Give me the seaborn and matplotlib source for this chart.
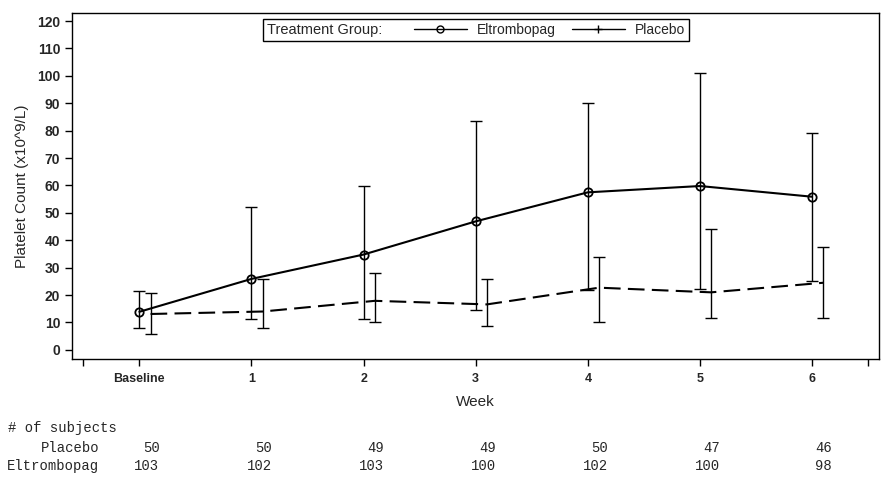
"""
Platelet count over time by treatment group, with subject counts below
"""

import numpy as np
import pandas as pd
import matplotlib
matplotlib.use("Agg")
import matplotlib.pyplot as plt
import matplotlib.transforms as mtransforms
from matplotlib.lines import Line2D
from matplotlib.offsetbox import HPacker
import seaborn as sns

# data
weeks = ['Baseline', '1', '2', '3', '4', '5', '6']
elt_mean = [13.9, 25.9, 34.8, 46.9, 57.5, 59.8, 55.9]
elt_low = [7.9, 11.2, 11.2, 14.6, 21.9, 22.1, 25.2]
elt_high = [21.6, 52.0, 59.7, 83.4, 90.0, 100.9, 79.0]
pbo_mean = [13.1, 14.0, 17.9, 16.6, 22.7, 21.0, 24.5]
pbo_low = [5.7, 7.9, 10.0, 8.8, 10.1, 11.5, 11.7]
pbo_high = [20.9, 25.8, 27.9, 25.8, 33.8, 44.0, 37.7]
n_placebo = [50, 50, 49, 49, 50, 47, 46]
n_elt = [103, 102, 103, 100, 102, 100, 98]

sns.set_style('ticks')
plt.rcParams['font.family'] = ['Liberation Sans', 'DejaVu Sans']

pos = np.arange(len(weeks))
offset = 0.1

elt = pd.DataFrame({'x': pos, 'y': elt_mean})
pbo = pd.DataFrame({'x': pos + offset, 'y': pbo_mean})

fig = plt.figure(figsize=(8.9, 4.87), dpi=100)
ax = fig.add_axes([0.081, 0.263, 0.907, 0.710])

# lines
sns.lineplot(data=elt, x='x', y='y', ax=ax, color='black', linewidth=1.5,
             marker='o', markersize=6, markerfacecolor='none',
             markeredgecolor='black', markeredgewidth=1.3, errorbar=None)
sns.lineplot(data=pbo, x='x', y='y', ax=ax, color='black', linewidth=1.5,
             linestyle=(0, (8, 3.5)), errorbar=None)

# error bars
ax.errorbar(pos, elt_mean,
            yerr=[np.array(elt_mean) - np.array(elt_low), np.array(elt_high) - np.array(elt_mean)],
            fmt='none', ecolor='black', elinewidth=1, capsize=4.3, capthick=1)
ax.errorbar(pos + offset, pbo_mean,
            yerr=[np.array(pbo_mean) - np.array(pbo_low), np.array(pbo_high) - np.array(pbo_mean)],
            fmt='none', ecolor='black', elinewidth=1, capsize=4.3, capthick=1)

ax.set_xlim(-0.6, 6.6)
ax.set_ylim(-3.3, 122.9)
ax.set_xticks(pos)
ax.set_xticklabels(weeks, fontsize=9, fontweight='bold')
ax.set_xticks([-0.5, 6.5], minor=True)
ax.set_yticks(np.arange(0, 121, 10))
ax.set_yticklabels([str(v) for v in range(0, 121, 10)], fontsize=10, fontweight='bold')
ax.tick_params(axis='both', which='both', direction='out', length=5, width=1, color='black')
ax.tick_params(axis='x', which='major', pad=5)
for sp in ax.spines.values():
    sp.set_visible(True)
    sp.set_color('black')
    sp.set_linewidth(1)

ax.set_xlabel('Week', fontsize=11, labelpad=7)
ax.set_ylabel('Platelet Count (x10^9/L)', fontsize=11, labelpad=6)

# legend with the title inline
handles = [
    Line2D([], [], color='black', linewidth=1, marker='o', markersize=5,
           markerfacecolor='none', markeredgecolor='black'),
    Line2D([], [], color='black', linewidth=1, marker='+', markersize=6),
]
leg = ax.legend(handles, ['Eltrombopag', 'Placebo'], title='Treatment Group:',
                ncol=2, loc='upper center', bbox_to_anchor=(0.5, 0.983),
                fontsize=10, title_fontsize=10.5, frameon=True, fancybox=False,
                edgecolor='black', framealpha=1, borderpad=0.3,
                handlelength=3.8, handletextpad=0.7, columnspacing=1.2,
                labelspacing=2.3, borderaxespad=0)
leg.get_frame().set_linewidth(1)
leg._legend_box.__class__ = HPacker

# subject counts table
mono = ['Liberation Mono', 'DejaVu Sans Mono']
fig.text(8 / 890, 1 - 428 / 487, '# of subjects', family=mono, fontsize=10,
         ha='left', va='center')
fig.text(99 / 890, 1 - 448 / 487, 'Placebo', family=mono, fontsize=10,
         ha='right', va='center')
fig.text(99 / 890, 1 - 466 / 487, 'Eltrombopag', family=mono, fontsize=10,
         ha='right', va='center')
trans = mtransforms.blended_transform_factory(ax.transData, fig.transFigure)
for i in range(len(weeks)):
    ax.text(pos[i] + 0.18, 1 - 448 / 487, str(n_placebo[i]), transform=trans,
            family=mono, fontsize=10, ha='right', va='center', clip_on=False)
    ax.text(pos[i] + 0.18, 1 - 466 / 487, str(n_elt[i]), transform=trans,
            family=mono, fontsize=10, ha='right', va='center', clip_on=False)

plt.savefig('out.png', dpi=100)
plt.close()
